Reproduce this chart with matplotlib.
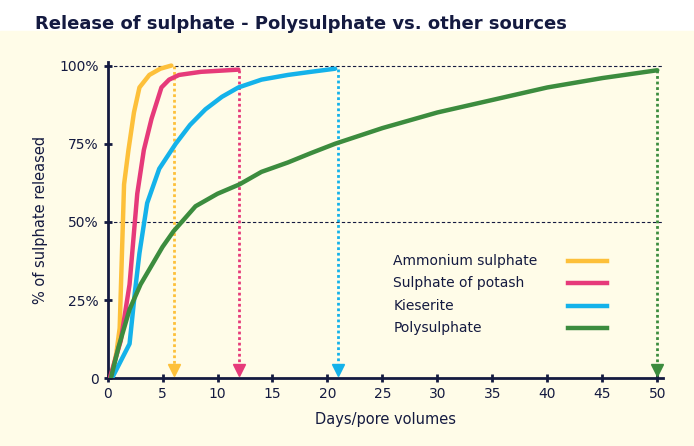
import matplotlib.pyplot as plt

# Data (days, % released)
amm_x = [0.3, 0.8, 1.1, 1.5, 1.9, 2.4, 2.9, 3.8, 4.8, 5.8]
amm_y = [0, 8, 16, 62, 73, 85, 93, 97, 99, 100]
sop_x = [0.2, 1.2, 2.0, 2.7, 3.3, 4.0, 4.9, 5.6, 6.5, 8.5, 11.9]
sop_y = [0, 12, 30, 59, 73, 83, 93, 95.5, 97, 98, 98.7]
kie_x = [0.4, 2.0, 2.5, 2.9, 3.6, 4.7, 6.2, 7.5, 8.9, 10.4, 11.9, 14, 16.4, 18.5, 20.7]
kie_y = [0, 11, 28, 40, 56, 67, 75, 81, 86, 90, 93, 95.5, 97, 98, 99]
poly_x = [0.3, 1, 2, 3, 4, 5, 6, 8, 10, 12, 14, 16.4, 18.5, 20.7, 25, 30, 35, 40, 45, 50]
poly_y = [0, 10, 22, 30, 36, 42, 47, 55, 59, 62, 66, 69, 72, 75, 80, 85, 89, 93, 96, 98.5]
arrow_x = [6, 12, 21, 50]
names = ['Ammonium sulphate', 'Sulphate of potash', 'Kieserite', 'Polysulphate']
colors = ['#fdc03a', '#e63a7a', '#14b2ea', '#3c8c3e']
navy = '#141a40'
bg = '#fffce8'

fig = plt.figure(figsize=(6.94, 4.46), dpi=100, facecolor='white')
ax = fig.add_axes([0.155, 0.152, 0.8, 0.708])
ax.set_facecolor(bg)
fig.patches.append(plt.Rectangle((0, 0), 1, 0.93, transform=fig.transFigure,
                                 color=bg, zorder=-1))

for y in [50, 100]:
    ax.axhline(y, color=navy, lw=0.8, ls=(0, (3, 2)), zorder=1)

series = [(amm_x, amm_y), (sop_x, sop_y), (kie_x, kie_y), (poly_x, poly_y)]
for i, ((xs, ys), c, n, a_x) in enumerate(zip(series, colors, names, arrow_x)):
    ax.plot(xs, ys, color=c, lw=3.2, solid_capstyle='round',
            solid_joinstyle='round', zorder=3)
    ax.plot([a_x, a_x], [ys[-1], 4], color=c, lw=2, ls=(0, (1, 1)), zorder=2)
    ax.plot([a_x], [2.5], marker='v', color=c, ms=8, zorder=2)
    # manual legend: text on the left, line sample on the right
    ly = 0.37 - i * 0.07
    ax.text(0.515, ly, n, transform=ax.transAxes, color=navy, fontsize=10,
            va='center', ha='left')
    ax.plot([0.83, 0.90], [ly, ly], transform=ax.transAxes, color=c, lw=3.2)

ax.set_xlim(0, 50.5)
ax.set_ylim(0, 101)
ax.set_xticks(range(0, 51, 5))
ax.set_yticks([0, 25, 50, 75, 100])
ax.set_yticklabels(['0', '25%', '50%', '75%', '100%'])
for s in ['top', 'right']:
    ax.spines[s].set_visible(False)
for s in ['left', 'bottom']:
    ax.spines[s].set_color(navy)
    ax.spines[s].set_linewidth(2)
ax.tick_params(colors=navy, width=2, length=6, labelsize=10, direction='inout')
ax.set_xlabel('Days/pore volumes', color=navy, fontsize=10.5, labelpad=8)
ax.set_ylabel('% of sulphate released', color=navy, fontsize=10.5, labelpad=8)
fig.text(0.05, 0.935, 'Release of sulphate - Polysulphate vs. other sources',
         fontsize=13, fontweight='bold', color=navy)

plt.savefig('out.png', dpi=100, facecolor='white')
